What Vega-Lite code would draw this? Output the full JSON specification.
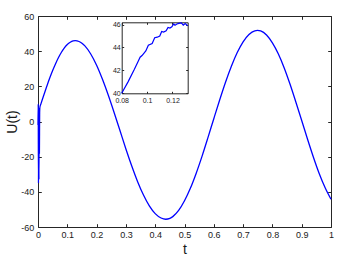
{
  "$schema": "https://vega.github.io/schema/vega-lite/v6.json",
  "width": 293,
  "height": 211,
  "autosize": {"type": "none"},
  "padding": {"left": 38, "top": 16, "right": 15, "bottom": 33},
  "background": "white",
  "config": {
    "view": {"stroke": null},
    "axis": {
      "grid": false,
      "domainColor": "#262626",
      "tickColor": "#262626",
      "labelColor": "#1a1a1a",
      "titleColor": "#1a1a1a",
      "labelFont": "Liberation Sans",
      "titleFont": "Liberation Sans",
      "titleFontWeight": "normal",
      "domainWidth": 1,
      "tickWidth": 1,
      "labelFlush": false,
      "labelOverlap": false
    }
  },
  "datasets": {
    "main": [
      {"t": 0, "U": -2}, {"t": 0.0008, "U": 10}, {"t": 0.0016, "U": -35}, {"t": 0.0024, "U": 8},
      {"t": 0.0032, "U": -33}, {"t": 0.004, "U": 4}, {"t": 0.0048, "U": -18}, {"t": 0.0056, "U": 5},
      {"t": 0.0065, "U": 8.1}, {"t": 0.01, "U": 10.0}, {"t": 0.02, "U": 15.1}, {"t": 0.03, "U": 20.0},
      {"t": 0.04, "U": 24.7}, {"t": 0.05, "U": 29.0}, {"t": 0.06, "U": 32.9}, {"t": 0.07, "U": 36.4},
      {"t": 0.08, "U": 39.4}, {"t": 0.09, "U": 41.9}, {"t": 0.10, "U": 43.8}, {"t": 0.11, "U": 45.1},
      {"t": 0.12, "U": 45.85}, {"t": 0.127, "U": 46.0}, {"t": 0.14, "U": 45.5}, {"t": 0.15, "U": 44.5},
      {"t": 0.16, "U": 43.0}, {"t": 0.18, "U": 38.4}, {"t": 0.20, "U": 32.0}, {"t": 0.22, "U": 24.0},
      {"t": 0.24, "U": 14.9}, {"t": 0.26, "U": 5.0}, {"t": 0.28, "U": -5.3}, {"t": 0.30, "U": -15.6},
      {"t": 0.32, "U": -25.3}, {"t": 0.34, "U": -34.2}, {"t": 0.36, "U": -41.8}, {"t": 0.38, "U": -48.0},
      {"t": 0.40, "U": -52.4}, {"t": 0.42, "U": -54.9}, {"t": 0.436, "U": -55.6}, {"t": 0.45, "U": -55.1},
      {"t": 0.46, "U": -54.1}, {"t": 0.48, "U": -50.6}, {"t": 0.50, "U": -45.1}, {"t": 0.52, "U": -38.0},
      {"t": 0.54, "U": -29.4}, {"t": 0.56, "U": -19.7}, {"t": 0.58, "U": -9.2}, {"t": 0.60, "U": 1.6},
      {"t": 0.62, "U": 12.2}, {"t": 0.64, "U": 22.3}, {"t": 0.66, "U": 31.4}, {"t": 0.68, "U": 39.2},
      {"t": 0.70, "U": 45.3}, {"t": 0.72, "U": 49.5}, {"t": 0.74, "U": 51.6}, {"t": 0.749, "U": 51.8},
      {"t": 0.76, "U": 51.5}, {"t": 0.78, "U": 49.2}, {"t": 0.80, "U": 44.7}, {"t": 0.82, "U": 38.5},
      {"t": 0.84, "U": 30.6}, {"t": 0.86, "U": 21.3}, {"t": 0.88, "U": 11.1}, {"t": 0.90, "U": 0.6},
      {"t": 0.92, "U": -10.1}, {"t": 0.94, "U": -20.3}, {"t": 0.96, "U": -29.7}, {"t": 0.98, "U": -37.7},
      {"t": 1.0, "U": -44.2}
    ],
    "inset": [
      {"t": 0.080, "U": 40.0}, {"t": 0.085, "U": 41.0}, {"t": 0.090, "U": 42.1}, {"t": 0.093, "U": 42.8},
      {"t": 0.0945, "U": 43.15}, {"t": 0.096, "U": 43.3}, {"t": 0.099, "U": 43.7}, {"t": 0.101, "U": 44.2},
      {"t": 0.104, "U": 44.35}, {"t": 0.106, "U": 44.85}, {"t": 0.108, "U": 44.9}, {"t": 0.110, "U": 45.0},
      {"t": 0.1115, "U": 45.4}, {"t": 0.113, "U": 45.35}, {"t": 0.115, "U": 45.45}, {"t": 0.1165, "U": 45.75},
      {"t": 0.118, "U": 45.7}, {"t": 0.1195, "U": 45.8}, {"t": 0.121, "U": 46.05}, {"t": 0.122, "U": 45.95},
      {"t": 0.1235, "U": 46.05}, {"t": 0.125, "U": 46.1}, {"t": 0.127, "U": 46.15}, {"t": 0.1285, "U": 45.95},
      {"t": 0.130, "U": 46.1}, {"t": 0.1315, "U": 45.95}, {"t": 0.132, "U": 45.9}
    ]
  },
  "layer": [
    {
      "data": {"name": "main"},
      "layer": [
        {
          "mark": {"type": "line", "color": "#0000ff", "strokeWidth": 1.3, "interpolate": "monotone"},
          "encoding": {
            "x": {
              "field": "t", "type": "quantitative",
              "scale": {"domain": [0, 1], "nice": false, "zero": false},
              "axis": {
                "orient": "bottom", "title": "t", "values": [0, 0.1, 0.2, 0.3, 0.4, 0.5, 0.6, 0.7, 0.8, 0.9, 1],
                "format": "~g", "labelFontSize": 9, "tickSize": -3.3, "labelPadding": 6.3,
                "titleFontSize": 14, "titleX": 146.5, "titleY": 22, "titleBaseline": "middle"
              }
            },
            "y": {
              "field": "U", "type": "quantitative",
              "scale": {"domain": [-60, 60], "nice": false},
              "axis": {
                "orient": "left", "title": "U(t)", "values": [-60, -40, -20, 0, 20, 40, 60],
                "labelExpr": "datum.value + ''", "labelFontSize": 9, "tickSize": -3.3, "labelPadding": 7.5,
                "titleFontSize": 14, "titleX": -26, "titleY": 105.5, "titleBaseline": "middle", "titleAngle": 270
              }
            }
          }
        },
        {
          "mark": {"type": "line", "opacity": 0},
          "encoding": {
            "x": {
              "field": "t", "type": "quantitative",
              "axis": {"orient": "top", "title": null, "labels": false, "tickSize": -3.3,
                       "values": [0, 0.1, 0.2, 0.3, 0.4, 0.5, 0.6, 0.7, 0.8, 0.9, 1]}
            },
            "y": {
              "field": "U", "type": "quantitative",
              "axis": {"orient": "right", "title": null, "labels": false, "tickSize": -3.3,
                       "values": [-60, -40, -20, 0, 20, 40, 60]}
            }
          }
        }
      ],
      "resolve": {"axis": {"x": "independent", "y": "independent"}}
    },
    {
      "data": {"name": "inset"},
      "layer": [
        {
          "mark": {"type": "line", "color": "#0000ff", "strokeWidth": 1.2},
          "encoding": {
            "x": {
              "field": "t", "type": "quantitative",
              "scale": {"domain": [0.08, 0.132], "range": [83.7, 149.7], "nice": false, "zero": false},
              "axis": {"orient": "bottom", "offset": -133.7, "title": null, "values": [0.08, 0.1, 0.12],
                       "format": "~g", "labelFontSize": 7, "tickSize": -2, "labelPadding": 5.6}
            },
            "y": {
              "field": "U", "type": "quantitative",
              "scale": {"domain": [40, 46.2], "range": [77.3, 6.3], "nice": false, "zero": false},
              "axis": {"orient": "left", "offset": -83.7, "title": null, "values": [40, 42, 44, 46],
                       "labelFontSize": 7, "tickSize": -2, "labelPadding": 3.5}
            }
          }
        },
        {
          "mark": {"type": "line", "opacity": 0},
          "encoding": {
            "x": {
              "field": "t", "type": "quantitative",
              "axis": {"orient": "top", "offset": -6.3, "title": null, "labels": false, "tickSize": -2,
                       "values": [0.08, 0.1, 0.12]}
            },
            "y": {
              "field": "U", "type": "quantitative",
              "axis": {"orient": "right", "offset": -143.3, "title": null, "labels": false, "tickSize": -2,
                       "values": [40, 42, 44, 46]}
            }
          }
        }
      ],
      "resolve": {"axis": {"x": "independent", "y": "independent"}}
    }
  ],
  "resolve": {"scale": {"x": "independent", "y": "independent"}}
}
